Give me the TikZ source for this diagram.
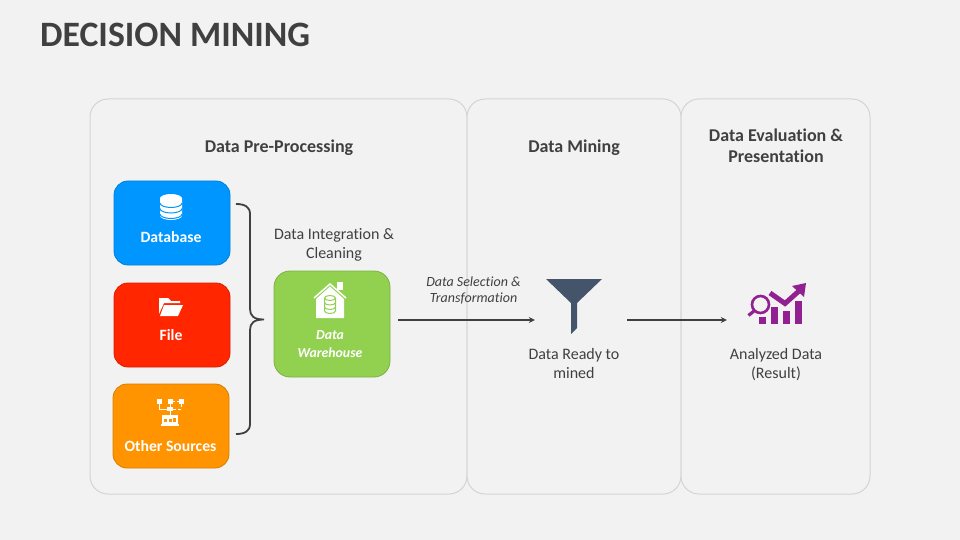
\documentclass[tikz,border=0pt]{standalone}
\usepackage{fontspec}
\usetikzlibrary{arrows.meta}
\setmainfont[Ligatures=NoCommon]{Carlito}

\definecolor{slidebg}{HTML}{F2F2F2}
\definecolor{panelline}{HTML}{D4D4D4}
\definecolor{darktext}{HTML}{404040}
\definecolor{dbblue}{HTML}{0096FF}
\definecolor{filered}{HTML}{FF2600}
\definecolor{otherorange}{HTML}{FF9300}
\definecolor{whgreen}{HTML}{92D050}
\definecolor{funnelblue}{HTML}{44546A}
\definecolor{chartpurple}{HTML}{912091}

\tikzset{
	panel/.style={draw=panelline, fill=slidebg, rounded corners=18pt, line width=1pt, minimum height=395pt},
	srcbox/.style={draw=#1!85!black, fill=#1, rounded corners=14pt, line width=0.8pt, minimum width=116pt, minimum height=84pt},
	heading/.style={text=darktext, align=center, font=\fontsize{18}{21}\selectfont\bfseries},
	boxlabel/.style={text=white, align=center, font=\fontsize{15.7}{18}\selectfont\bfseries},
	plainlabel/.style={text=darktext, align=center, font=\fontsize{16}{19}\selectfont},
	flow/.style={draw=darktext, line width=1.5pt, -{Stealth[length=6pt,width=6pt]}}
}

\begin{document}
\begin{tikzpicture}[x=1pt, y=-1pt]
	\fill[slidebg] (0,0) rectangle (960,540);
	\useasboundingbox (0,0) rectangle (960,540);

	% Title
	\node[text=darktext, font=\fontsize{35.7}{40}\selectfont\bfseries, anchor=west, inner sep=0pt] (title) at (40,34.5) {DECISION MINING};

	% Panels
	\node[panel, minimum width=377pt] (prep) at (278.5,296.5) {};
	\node[panel, minimum width=214pt] (mining) at (574,296.5) {};
	\node[panel, minimum width=189pt] (eval) at (775.5,296.5) {};

	\node[heading] (prephead) at (279,147.5) {Data Pre-Processing};
	\node[heading] (mininghead) at (574,147.5) {Data Mining};
	\node[heading] (evalhead) at (776,145.5) {Data Evaluation \&\\Presentation};

	% Source boxes
	\node[srcbox=dbblue] (db) at (172,223) {};
	\node[srcbox=filered] (file) at (172,325) {};
	\node[srcbox=otherorange] (other) at (171,426) {};
	\node[srcbox=whgreen, minimum height=106pt, rounded corners=16pt] (wh) at (332,324) {};

	\node[boxlabel] (dblabel) at (171,237) {Database};
	\node[boxlabel] (filelabel) at (171,335) {File};
	\node[boxlabel] (otherlabel) at (170.5,446) {Other Sources};
	\node[boxlabel, font=\fontsize{13.8}{18}\selectfont\bfseries\itshape] (whlabel) at (330,344) {Data\\Warehouse};
	\node[plainlabel] (whhead) at (334,245) {Data Integration \&\\Cleaning};

	% Database icon
	\fill[white] (160,198.5) arc (180:360:11 and 4.5) -- (182,215.5) arc (0:180:11 and 4.5) -- cycle;
	\draw[dbblue, line width=1pt] (160,203) arc (180:0:11 and 4.5);
	\draw[dbblue, line width=1pt] (160,208.5) arc (180:0:11 and 4.5);
	\draw[dbblue, line width=1pt] (160,214) arc (180:0:11 and 4.5);

	% Folder icon
	\fill[white] (159,314) -- (159,298) -- (168,298) -- (171,301) -- (180,301) -- (180,303) -- (164,303) -- cycle;
	\fill[white] (164,305) -- (183,305) -- (178,316) -- (160,316) -- cycle;

	% Network icon
	\fill[white] (156.5,398.5) rectangle (161.5,403.5);
	\fill[white] (167.5,398.5) rectangle (172.5,403.5);
	\fill[white] (178.5,398.5) rectangle (183.5,403.5);
	\fill[white] (167,407) rectangle (173,411);
	\draw[white, line width=0.7pt] (159,403) -- (159,409) -- (167,409);
	\draw[white, line width=0.7pt] (170,403) -- (170,415);
	\draw[white, line width=0.7pt, densely dashed] (173,409) -- (181,409) -- (181,403);
	\draw[white, line width=0.7pt, densely dashed] (172,401) -- (179,401);
	\fill[white] (162,415) rectangle (178,424);
	\fill[white] (161,424) rectangle (179,426);
	\fill[otherorange] (164,419) rectangle (167,422);
	\fill[otherorange] (168.5,419) rectangle (171.5,422);
	\fill[otherorange] (173,418) rectangle (176,422);

	% House icon
	\draw[white, line width=1.5pt] (314,298) -- (330,284) -- (346,298);
	\fill[white] (337,282) rectangle (343,290);
	\fill[white] (316,299) -- (330,286.5) -- (344,299) -- (344,318) -- (316,318) -- cycle;
	\draw[whgreen, line width=1pt] (330,298) ellipse (5.5 and 2.5);
	\draw[whgreen, line width=1pt] (324.5,298) -- (324.5,311) arc (180:0:5.5 and 2.5) -- (335.5,298);
	\draw[whgreen, line width=1pt] (324.5,302.5) arc (180:0:5.5 and 2.5);
	\draw[whgreen, line width=1pt] (324.5,307) arc (180:0:5.5 and 2.5);

	% Brace
	\coordinate (bracetop) at (236,204);
	\coordinate (bracetip) at (264,319.5);
	\coordinate (bracebot) at (236,434);
	\draw[darktext, line width=1.8pt] (bracetop) .. controls (245,204) and (250,207) .. (250,214)
		-- (250,309) .. controls (250,316) and (254,319.5) .. (bracetip)
		.. controls (254,319.5) and (250,323) .. (250,330)
		-- (250,424) .. controls (250,431) and (245,434) .. (bracebot);

	% Funnel icon
	\node[minimum width=56pt, minimum height=55pt, inner sep=0pt] (funnel) at (574,306.5) {};
	\fill[funnelblue] (546,279) -- (602,279) -- (577,303) -- (577,328) -- (571,334) -- (571,303) -- cycle;
	\node[plainlabel] (funnellabel) at (574,363.5) {Data Ready to\\mined};

	% Chart icon
	\node[minimum width=60pt, minimum height=42pt, inner sep=0pt] (chart) at (777,304) {};
	\fill[chartpurple] (759,317) rectangle (766,323.5);
	\fill[chartpurple] (771,307) rectangle (778,323.5);
	\fill[chartpurple] (783,311) rectangle (790,323.5);
	\fill[chartpurple] (795,301) rectangle (802,323.5);
	\draw[chartpurple, line width=5pt] (770,293) -- (785,303.5) -- (799,291);
	\fill[chartpurple] (792,286) -- (806,283) -- (804,297) -- cycle;
	\draw[chartpurple, line width=2.6pt] (760.5,304.5) circle (8.5);
	\draw[chartpurple, line width=3.2pt] (754,311) -- (748.5,315.5);
	\node[plainlabel] (chartlabel) at (776,365) {Analyzed Data\\(Result)};

	% Arrows
	\draw[flow] ([shift={(8,-4)}]wh.east) -- ([shift={(-11,13.5)}]funnel.west);
	\draw[flow] ([shift={(25,13.5)}]funnel.east) -- ([shift={(-20,16)}]chart.west);
	\node[text=darktext, align=center, inner sep=0pt, font=\fontsize{14}{16}\selectfont\itshape] (sellabel) at (473.5,290) {Data Selection \&\\Transformation};
\end{tikzpicture}
\end{document}
